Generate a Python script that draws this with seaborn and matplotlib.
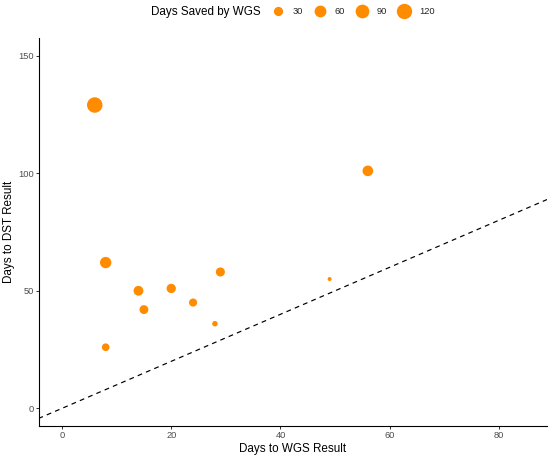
import matplotlib
matplotlib.use("Agg")
import matplotlib.pyplot as plt
from matplotlib.lines import Line2D
import seaborn as sns
import pandas as pd

# Values
wgs_days = [6, 8, 8, 14, 15, 20, 24, 28, 29, 49, 56]
dst_days = [129, 62, 26, 50, 42, 51, 45, 36, 58, 55, 101]
days_saved = [123, 54, 18, 36, 27, 31, 21, 8, 29, 6, 45]
legend_breaks = [30, 60, 90, 120]

df = pd.DataFrame({"wgs": wgs_days, "dst": dst_days, "saved": days_saved})

ORANGE = "#FF8C00"
D_MIN, D_MAX = 4.0, 15.5  # point diameter range (px at 72 dpi)
v_min, v_max = min(days_saved), max(days_saved)


def diameter(v):
    # ggplot-like area scale: diameter grows with sqrt of rescaled value
    frac = (v - v_min) / (v_max - v_min)
    return D_MIN + (D_MAX - D_MIN) * max(frac, 0) ** 0.5


size_map = {v: diameter(v) ** 2 for v in sorted(set(days_saved))}

sns.set_theme(style="ticks")
plt.rcParams["font.family"] = ["Liberation Sans", "DejaVu Sans"]

fig = plt.figure(figsize=(550 / 72, 457 / 72), dpi=72)
ax = fig.add_axes([38.5 / 550, 31 / 457, (547 - 38.5) / 550, (426 - 38) / 457])

ax.axline((0, 0), slope=1, color="black", lw=1.2, ls=(0, (4, 3.5)), zorder=1)
sns.scatterplot(data=df, x="wgs", y="dst", size="saved", sizes=size_map,
                color=ORANGE, edgecolor="none", linewidth=0, alpha=1,
                legend=False, ax=ax, zorder=2)

ax.set_xlim(-4.3, 88.8)
ax.set_ylim(-7.5, 157.5)
ax.set_xticks([0, 20, 40, 60, 80])
ax.set_yticks([0, 50, 100, 150])
ax.set_xlabel("Days to WGS Result", fontsize=11.6, color="black", labelpad=3)
ax.set_ylabel("Days to DST Result", fontsize=11.6, color="black", labelpad=3)
ax.tick_params(axis="both", labelsize=9.3, labelcolor="#4D4D4D", color="#333333",
               length=2.75, width=1.0, pad=2.2)
for side in ["top", "right"]:
    ax.spines[side].set_visible(False)
for side in ["left", "bottom"]:
    ax.spines[side].set_color("black")
    ax.spines[side].set_linewidth(1.1)

# Legend on top: title to the left, entries in one row
fig.text(261 / 550, 1 - 12 / 457, "Days Saved by WGS", ha="right", va="center",
         fontsize=11.6, color="black")
handles = [Line2D([], [], ls="none", marker="o", markersize=diameter(b),
                  markerfacecolor=ORANGE, markeredgecolor="none") for b in legend_breaks]
fig.legend(handles, [str(b) for b in legend_breaks], ncol=4, frameon=False,
           loc="center left", bbox_to_anchor=(271 / 550, 1 - 12 / 457),
           fontsize=9.3, handlelength=1.6, handletextpad=0.75, columnspacing=1.05,
           borderpad=0, borderaxespad=0)

fig.savefig("out.png", dpi=72)
